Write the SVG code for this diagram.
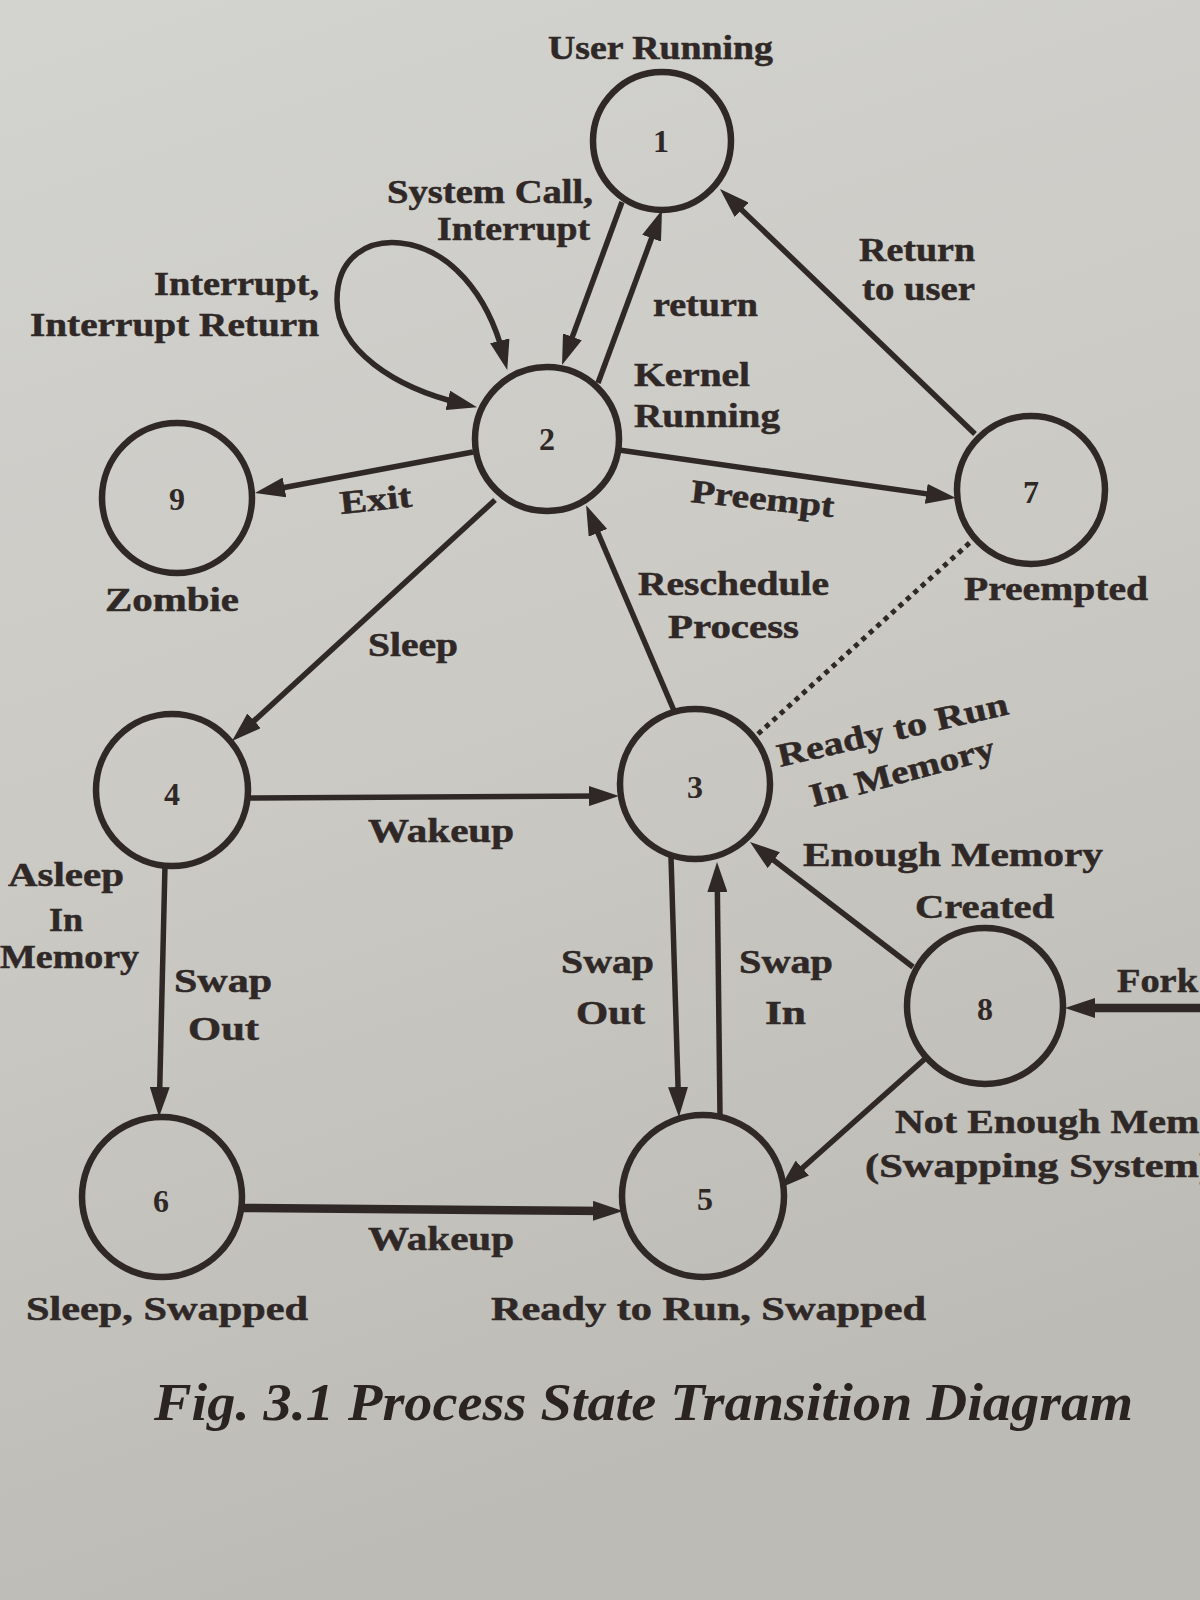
<svg xmlns="http://www.w3.org/2000/svg" width="1200" height="1600" viewBox="0 0 1200 1600">
<defs>
<linearGradient id="paper" x1="0" y1="0" x2="0.25" y2="1">
<stop offset="0" stop-color="#d3d3cf"/>
<stop offset="0.5" stop-color="#cbcac5"/>
<stop offset="1" stop-color="#bdbbb5"/>
</linearGradient>
<marker id="ah" viewBox="0 0 30 20" markerWidth="30" markerHeight="20" refX="15" refY="10" orient="auto-start-reverse" markerUnits="userSpaceOnUse">
<path d="M0,0 L30,10 L0,20 Z" fill="#2f2826"/>
</marker>
<style>
.node circle{fill:none;stroke:#2f2826;stroke-width:6.5}
.num{font-family:"Liberation Serif","Times New Roman",serif;font-weight:bold;font-size:32px;fill:#2f2826;text-anchor:middle}
.lbl{font-family:"Liberation Serif","Times New Roman",serif;font-weight:bold;font-size:33px;fill:#2f2826;stroke:#2f2826;stroke-width:0.5}
.cap{font-family:"Liberation Serif","Times New Roman",serif;font-weight:bold;font-style:italic;font-size:53px;fill:#2a2321}
.edge{fill:none;stroke:#2f2826;stroke-width:5.5;marker-end:url(#ah)}
.thick{stroke-width:8.5}
.dot{fill:none;stroke:#2f2826;stroke-width:5;stroke-dasharray:5 5}
</style>
</defs>
<rect x="0" y="0" width="1200" height="1600" fill="url(#paper)"/>

<g id="connectors">
<line class="edge" x1="622" y1="202" x2="567.2" y2="350.9"/>
<line class="edge" x1="598" y1="383" x2="656.8" y2="224.1"/>
<path class="edge" style="marker-start:url(#ah)" d="M462.4,403.8 C395,388 337,350 337,300 C337,255 370,240 400,243 C450,248 488,295 503.5,355.4"/>
<line class="edge" x1="473" y1="452" x2="269.7" y2="490.2"/>
<line class="edge" x1="619" y1="450" x2="941.1" y2="495.9"/>
<line class="edge" x1="975" y1="434" x2="730.8" y2="199.4"/>
<line class="edge" x1="495" y1="500" x2="243.1" y2="730.9"/>
<line class="edge" x1="675" y1="713" x2="592" y2="519"/>
<line class="dot" x1="758" y1="734" x2="975" y2="538"/>
<line class="edge" x1="248" y1="798" x2="604" y2="796"/>
<line class="edge" x1="165" y1="865" x2="159.4" y2="1102"/>
<line class="edge" x1="671" y1="857" x2="678.5" y2="1102"/>
<line class="edge" x1="720" y1="1115" x2="717.2" y2="877"/>
<line class="edge" x1="913" y1="967" x2="761.9" y2="851.1"/>
<line class="edge thick" x1="1205" y1="1008" x2="1080" y2="1008"/>
<line class="edge" x1="927" y1="1057" x2="791.2" y2="1178"/>
<line class="edge thick" x1="244" y1="1208" x2="608" y2="1211"/>
</g>

<g id="node1" class="node"><circle cx="662" cy="141" r="69"/><text class="num" x="661" y="152">1</text></g>
<g id="node2" class="node"><circle cx="547" cy="439" r="72"/><text class="num" x="547" y="450">2</text></g>
<g id="node9" class="node"><circle cx="177" cy="498" r="75"/><text class="num" x="177" y="510">9</text></g>
<g id="node7" class="node"><circle cx="1031" cy="490" r="74"/><text class="num" x="1031" y="503">7</text></g>
<g id="node4" class="node"><circle cx="172" cy="790" r="76"/><text class="num" x="172" y="805">4</text></g>
<g id="node3" class="node"><circle cx="695" cy="784" r="75"/><text class="num" x="695" y="798">3</text></g>
<g id="node8" class="node"><circle cx="985" cy="1006" r="78"/><text class="num" x="985" y="1020">8</text></g>
<g id="node6" class="node"><circle cx="162" cy="1197" r="80"/><text class="num" x="161" y="1212">6</text></g>
<g id="node5" class="node"><circle cx="703" cy="1196" r="81"/><text class="num" x="705" y="1210">5</text></g>

<g id="labels">
<text class="lbl" x="548" y="59" textLength="225" lengthAdjust="spacingAndGlyphs">User Running</text>
<text class="lbl" x="387" y="203" textLength="206" lengthAdjust="spacingAndGlyphs">System Call,</text>
<text class="lbl" x="437" y="240" textLength="153" lengthAdjust="spacingAndGlyphs">Interrupt</text>
<text class="lbl" x="154" y="295" textLength="165" lengthAdjust="spacingAndGlyphs">Interrupt,</text>
<text class="lbl" x="30" y="336" textLength="289" lengthAdjust="spacingAndGlyphs">Interrupt Return</text>
<text class="lbl" x="653" y="316" textLength="105" lengthAdjust="spacingAndGlyphs">return</text>
<text class="lbl" x="634" y="386" textLength="116" lengthAdjust="spacingAndGlyphs">Kernel</text>
<text class="lbl" x="634" y="427" textLength="146" lengthAdjust="spacingAndGlyphs">Running</text>
<text class="lbl" x="859" y="261" textLength="116" lengthAdjust="spacingAndGlyphs">Return</text>
<text class="lbl" x="862" y="300" textLength="113" lengthAdjust="spacingAndGlyphs">to user</text>
<text class="lbl" x="341" y="514" textLength="72" lengthAdjust="spacingAndGlyphs" transform="rotate(-6 341 514)">Exit</text>
<text class="lbl" x="690" y="502" textLength="144" lengthAdjust="spacingAndGlyphs" transform="rotate(6 690 502)">Preempt</text>
<text class="lbl" x="105" y="611" textLength="134" lengthAdjust="spacingAndGlyphs">Zombie</text>
<text class="lbl" x="964" y="600" textLength="184" lengthAdjust="spacingAndGlyphs">Preempted</text>
<text class="lbl" x="368" y="656" textLength="90" lengthAdjust="spacingAndGlyphs">Sleep</text>
<text class="lbl" x="638" y="595" textLength="191" lengthAdjust="spacingAndGlyphs">Reschedule</text>
<text class="lbl" x="668" y="638" textLength="131" lengthAdjust="spacingAndGlyphs">Process</text>
<text class="lbl" x="780" y="767" textLength="236" lengthAdjust="spacingAndGlyphs" transform="rotate(-13 780 767)">Ready to Run</text>
<text class="lbl" x="813" y="807" textLength="190" lengthAdjust="spacingAndGlyphs" transform="rotate(-15 813 807)">In Memory</text>
<text class="lbl" x="368" y="842" textLength="146" lengthAdjust="spacingAndGlyphs">Wakeup</text>
<text class="lbl" x="803" y="866" textLength="300" lengthAdjust="spacingAndGlyphs">Enough Memory</text>
<text class="lbl" x="915" y="918" textLength="139" lengthAdjust="spacingAndGlyphs">Created</text>
<text class="lbl" x="8" y="886" textLength="116" lengthAdjust="spacingAndGlyphs">Asleep</text>
<text class="lbl" x="49" y="931" textLength="34" lengthAdjust="spacingAndGlyphs">In</text>
<text class="lbl" x="0" y="968" textLength="139" lengthAdjust="spacingAndGlyphs">Memory</text>
<text class="lbl" x="174" y="992" textLength="98" lengthAdjust="spacingAndGlyphs">Swap</text>
<text class="lbl" x="188" y="1040" textLength="71" lengthAdjust="spacingAndGlyphs">Out</text>
<text class="lbl" x="561" y="973" textLength="93" lengthAdjust="spacingAndGlyphs">Swap</text>
<text class="lbl" x="576" y="1024" textLength="69" lengthAdjust="spacingAndGlyphs">Out</text>
<text class="lbl" x="739" y="973" textLength="94" lengthAdjust="spacingAndGlyphs">Swap</text>
<text class="lbl" x="765" y="1024" textLength="41" lengthAdjust="spacingAndGlyphs">In</text>
<text class="lbl" x="1117" y="992" textLength="81" lengthAdjust="spacingAndGlyphs">Fork</text>
<text class="lbl" x="895" y="1133" textLength="362" lengthAdjust="spacingAndGlyphs">Not Enough Memory</text>
<text class="lbl" x="865" y="1177" textLength="348" lengthAdjust="spacingAndGlyphs">(Swapping System)</text>
<text class="lbl" x="368" y="1250" textLength="146" lengthAdjust="spacingAndGlyphs">Wakeup</text>
<text class="lbl" x="26" y="1320" textLength="282" lengthAdjust="spacingAndGlyphs">Sleep, Swapped</text>
<text class="lbl" x="491" y="1320" textLength="435" lengthAdjust="spacingAndGlyphs">Ready to Run, Swapped</text>
</g>
<text class="cap" x="154" y="1420" textLength="979" lengthAdjust="spacingAndGlyphs">Fig. 3.1 Process State Transition Diagram</text>
</svg>
